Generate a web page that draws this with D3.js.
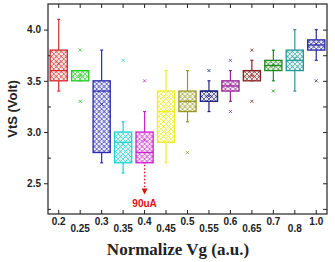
<!DOCTYPE html>
<html>
<head>
<meta charset="utf-8">
<script src="https://cdn.jsdelivr.net/npm/d3@7"></script>
<style>
  body { margin: 0; background: #fff; }
</style>
</head>
<body>
<div id="chart"></div>
<script>
var svgWidth = 335;
var svgHeight = 262;

var margin = { top: 4, right: 8, bottom: 48, left: 48 };
var width = svgWidth - margin.left - margin.right;
var height = svgHeight - margin.top - margin.bottom;

var sans = "'Liberation Sans', Arial, sans-serif";
var serif = "'Liberation Serif', 'Times New Roman', serif";

// data
var categories = ["0.2", "0.25", "0.3", "0.35", "0.4", "0.45", "0.5", "0.55", "0.6", "0.65", "0.7", "0.8", "1.0"];
var whiskerHigh = [4.10, 3.60, 3.80, 3.10, 3.20, 3.60, 3.60, 3.50, 3.60, 3.70, 3.80, 4.00, 4.00];
var q3 =          [3.80, 3.60, 3.50, 3.00, 3.00, 3.40, 3.40, 3.40, 3.50, 3.60, 3.70, 3.80, 3.90];
var medians =     [3.60, 3.60, 3.40, 2.90, 2.80, 3.20, 3.30, 3.40, 3.45, 3.60, 3.65, 3.70, 3.85];
var q1 =          [3.50, 3.50, 2.80, 2.70, 2.70, 2.90, 3.20, 3.30, 3.40, 3.50, 3.60, 3.60, 3.80];
var whiskerLow =  [3.40, 3.50, 2.70, 2.60, 2.70, 2.70, 3.10, 3.20, 3.30, 3.50, 3.50, 3.40, 3.70];
var means =       [3.67, 3.55, 3.27, 2.88, 2.92, 3.20, 3.30, 3.35, 3.46, 3.55, 3.65, 3.72, 3.86];
var outliers = [[], [3.80, 3.30], [], [3.70], [3.50], [], [2.80], [3.60], [3.70, 3.20], [3.80, 3.30], [3.40], [], [3.50]];
var colors = ["#d42a2a", "#22cc22", "#2a2ab4", "#22d0d0", "#cc22cc", "#eeee22", "#999922", "#22227a", "#992299", "#882222", "#228822", "#229999", "#2a2aa0"];
var yTicks = [2.5, 3.0, 3.5, 4.0];
var yMinorTicks = [2.25, 2.75, 3.25, 3.75];
var arrowCat = "0.4", arrowFrom = 2.70, arrowTo = 2.40, arrowLabel = "90uA";

var svg = d3.select("#chart")
    .append("svg")
    .attr("width", svgWidth)
    .attr("height", svgHeight);

var defs = svg.append("defs");
colors.forEach(function(c, i) {
    var p = defs.append("pattern")
        .attr("id", "hatch" + i)
        .attr("patternUnits", "userSpaceOnUse")
        .attr("width", 5)
        .attr("height", 5);
    p.append("rect").attr("width", 5).attr("height", 5).attr("fill", "#fff");
    p.append("path")
        .attr("d", "M0,0L5,5M5,0L0,5")
        .attr("stroke", c)
        .attr("stroke-width", 0.7);
    p.append("circle").attr("cx", 2.5).attr("cy", 2.5).attr("r", 1.4)
        .attr("fill", "none").attr("stroke", c).attr("stroke-width", 0.5);
});

var chartGroup = svg.append("g")
    .attr("transform", `translate(${margin.left}, ${margin.top})`);

var x = d3.scaleBand().domain(categories).range([0, width]);
var y = d3.scaleLinear().domain([2.2, 4.25]).range([height, 0]);
var boxW = x.bandwidth() * 0.8;

// frame
chartGroup.append("rect")
    .attr("width", width).attr("height", height)
    .attr("fill", "none").attr("stroke", "#222").attr("stroke-width", 1.2);

// left axis: majors outward, minors inward
var leftAxis = chartGroup.append("g")
    .call(d3.axisLeft(y).tickValues(yTicks).tickFormat(d3.format(".1f")).tickSize(4));
leftAxis.select(".domain").remove();
leftAxis.selectAll("text")
    .style("font-family", sans).style("font-size", "10px").style("font-weight", "bold")
    .attr("fill", "#222");
leftAxis.selectAll("line").attr("stroke", "#222");
chartGroup.append("g")
    .call(d3.axisRight(y).tickValues(yMinorTicks).tickSize(3).tickFormat(""))
    .call(g => g.select(".domain").remove())
    .selectAll("line").attr("stroke", "#222");

// right axis ticks inward
chartGroup.append("g")
    .attr("transform", `translate(${width},0)`)
    .call(d3.axisLeft(y).tickValues(yTicks.concat(yMinorTicks)).tickSize(4).tickFormat(""))
    .call(g => g.select(".domain").remove())
    .selectAll("line").attr("stroke", "#222");

// top ticks inward
chartGroup.append("g")
    .call(d3.axisBottom(x).tickSize(4).tickFormat(""))
    .call(g => g.select(".domain").remove())
    .selectAll("line").attr("stroke", "#222");

// bottom ticks inward, staggered labels
var bottomAxis = chartGroup.append("g")
    .attr("transform", `translate(0,${height})`)
    .call(d3.axisTop(x).tickSize(4))
    .call(g => g.select(".domain").remove());
bottomAxis.selectAll("line").attr("stroke", "#222");
bottomAxis.selectAll("text")
    .attr("y", (d, i) => i % 2 === 0 ? 11 : 18)
    .attr("dy", 0)
    .style("font-family", sans).style("font-size", "10px").style("font-weight", "bold")
    .attr("fill", "#222");

// boxes
var boxes = chartGroup.selectAll(".box")
    .data(categories)
    .enter()
    .append("g")
    .attr("class", "box")
    .attr("transform", d => `translate(${x(d) + x.bandwidth() / 2},0)`);

boxes.append("line")
    .attr("y1", (d, i) => y(whiskerHigh[i])).attr("y2", (d, i) => y(q3[i]))
    .attr("stroke", (d, i) => colors[i]).attr("stroke-width", 1.2);
boxes.append("line")
    .attr("y1", (d, i) => y(q1[i])).attr("y2", (d, i) => y(whiskerLow[i]))
    .attr("stroke", (d, i) => colors[i]).attr("stroke-width", 1.2);
boxes.append("line")
    .attr("x1", -1.5).attr("x2", 1.5)
    .attr("y1", (d, i) => y(whiskerHigh[i])).attr("y2", (d, i) => y(whiskerHigh[i]))
    .attr("stroke", (d, i) => colors[i]).attr("stroke-width", 1.2);
boxes.append("line")
    .attr("x1", -1.5).attr("x2", 1.5)
    .attr("y1", (d, i) => y(whiskerLow[i])).attr("y2", (d, i) => y(whiskerLow[i]))
    .attr("stroke", (d, i) => colors[i]).attr("stroke-width", 1.2);

boxes.append("rect")
    .attr("x", -boxW / 2).attr("width", boxW)
    .attr("y", (d, i) => y(q3[i]))
    .attr("height", (d, i) => y(q1[i]) - y(q3[i]))
    .attr("fill", (d, i) => `url(#hatch${i})`)
    .attr("stroke", (d, i) => colors[i]).attr("stroke-width", 1.3);

boxes.append("line")
    .attr("x1", -boxW / 2).attr("x2", boxW / 2)
    .attr("y1", (d, i) => y(medians[i])).attr("y2", (d, i) => y(medians[i]))
    .attr("stroke", (d, i) => colors[i]).attr("stroke-width", 1.2);

// mean markers
boxes.append("path")
    .attr("d", (d, i) => { var m = y(means[i]); return `M-1.5,${m - 1.5}L1.5,${m + 1.5}M1.5,${m - 1.5}L-1.5,${m + 1.5}`; })
    .attr("stroke", (d, i) => colors[i]).attr("stroke-width", 0.8);

// outliers
boxes.each(function(d, i) {
    d3.select(this).selectAll(".out")
        .data(outliers[i])
        .enter()
        .append("path")
        .attr("class", "out")
        .attr("d", v => `M-1.5,${y(v) - 1.5}L1.5,${y(v) + 1.5}M1.5,${y(v) - 1.5}L-1.5,${y(v) + 1.5}`)
        .attr("stroke", colors[i]).attr("stroke-width", 0.8);
});

// arrow annotation
var ax = x(arrowCat) + x.bandwidth() / 2;
chartGroup.append("line")
    .attr("x1", ax).attr("x2", ax)
    .attr("y1", y(arrowFrom) + 2).attr("y2", y(arrowTo) - 4)
    .attr("stroke", "#e01010").attr("stroke-width", 1.3)
    .attr("stroke-dasharray", "1.5,2");
chartGroup.append("path")
    .attr("d", `M${ax - 3},${y(arrowTo) - 5}L${ax + 3},${y(arrowTo) - 5}L${ax},${y(arrowTo) + 1}Z`)
    .attr("fill", "#e01010");
chartGroup.append("text")
    .attr("x", ax).attr("y", y(arrowTo) + 13)
    .attr("text-anchor", "middle")
    .style("font-family", sans).style("font-size", "10px").style("font-weight", "bold")
    .attr("fill", "#e01010")
    .text(arrowLabel);

// axis titles
svg.append("text")
    .attr("transform", `translate(17,${margin.top + height / 2}) rotate(-90)`)
    .attr("text-anchor", "middle")
    .style("font-family", sans).style("font-size", "13px").style("font-weight", "bold")
    .attr("fill", "#222")
    .text("VtS (Volt)");

svg.append("text")
    .attr("x", 178).attr("y", 255)
    .attr("text-anchor", "middle")
    .style("font-family", serif).style("font-size", "17px").style("font-weight", "bold")
    .attr("fill", "#222")
    .text("Normalize Vg (a.u.)");
</script>
</body>
</html>
